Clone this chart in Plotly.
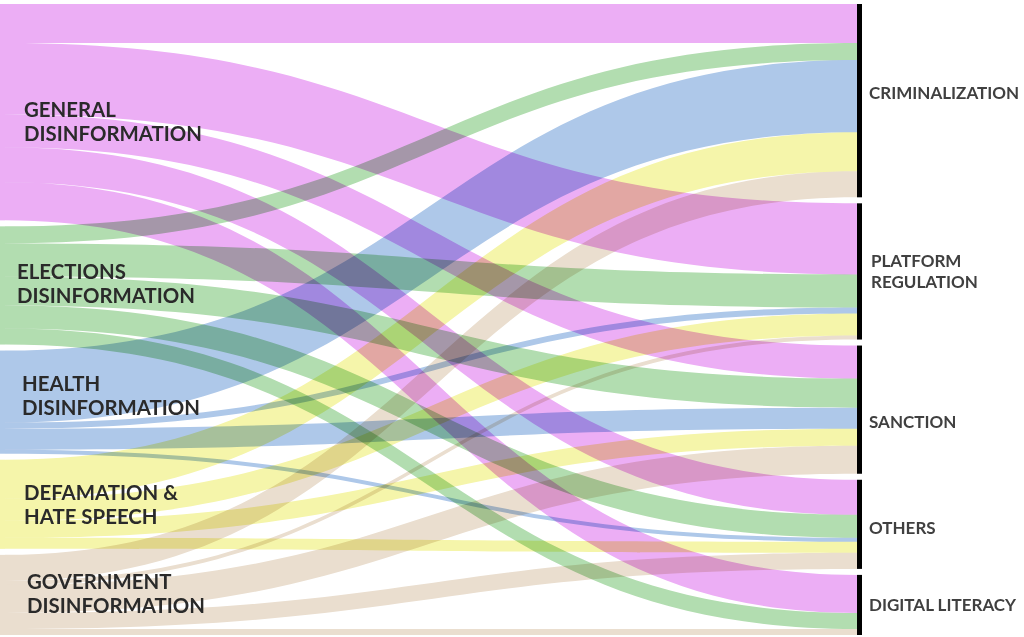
import plotly.graph_objects as go

# ---------------- data ----------------
sources = ["GENERAL<br>DISINFORMATION", "ELECTIONS<br>DISINFORMATION", "HEALTH<br>DISINFORMATION",
           "DEFAMATION &<br>HATE SPEECH", "GOVERNMENT<br>DISINFORMATION"]
targets = ["CRIMINALIZATION", "PLATFORM<br>REGULATION", "SANCTION", "OTHERS", "DIGITAL LITERACY"]

# flow values from each source to [Criminalization, Platform Regulation, Sanction, Others, Digital Literacy]
general_flows = [39, 71, 33, 35, 38]
elections_flows = [17, 33, 29, 23, 16]
health_flows = [72, 6, 21, 4, 0]
defamation_flows = [39, 22, 17, 11, 0]
government_flows = [26, 4, 28, 16, 6]

source_colors = ["#ECAEF5", "#B2DDB0", "#AEC8E9", "#F5F5AA", "#EADECF"]
target_color = "#000000"

# ---------------- build ----------------
flows = [general_flows, elections_flows, health_flows, defamation_flows, government_flows]
link_src, link_tgt, link_val, link_col = [], [], [], []
for i, row in enumerate(flows):
    for j, v in enumerate(row):
        if v > 0:
            link_src.append(i)
            link_tgt.append(len(sources) + j)
            link_val.append(v)
            link_col.append(source_colors[i])

W, H = 1024, 637
top_px, bot_px, right_px = 4, 635, 862
dom_h = bot_px - top_px
dom_w = right_px
pad = 6
thick = 5

src_tot = [sum(r) for r in flows]
tgt_tot = [sum(r[j] for r in flows) for j in range(len(targets))]
total = sum(src_tot)
ky = (dom_h - (len(sources) - 1) * pad) / total


def centers(vals):
    out, cum = [], 0
    for i, v in enumerate(vals):
        out.append((cum * ky + i * pad + v * ky / 2) / dom_h)
        cum += v
    return out


node_x = [thick / 2 / dom_w] * len(sources) + [1 - thick / 2 / dom_w] * len(targets)
node_y = centers(src_tot) + centers(tgt_tot)

labels_plain = [s.replace("<br>", " ") for s in sources + targets]

fig = go.Figure(go.Sankey(
    arrangement="fixed",
    domain=dict(x=[0, right_px / W], y=[1 - bot_px / H, 1 - top_px / H]),
    node=dict(
        label=["" for _ in labels_plain],
        customdata=labels_plain,
        hovertemplate="%{customdata}<extra></extra>",
        color=source_colors + [target_color] * len(targets),
        line=dict(width=0),
        thickness=thick,
        pad=pad,
        x=node_x,
        y=node_y,
    ),
    link=dict(source=link_src, target=link_tgt, value=link_val, color=link_col,
              line=dict(width=0)),
))

# labels as annotations (one per line for exact line spacing)
left_pos = [(22, 121), (15, 283), (20, 395), (22, 504), (25, 593)]
right_pos = [(867, 93), (869, 271), (867, 421), (867, 527), (867, 604)]
ann = []


def add_label(txt, x, y, size, color, gap):
    lines = txt.split("<br>")
    n = len(lines)
    for k, line in enumerate(lines):
        yy = y + (k - (n - 1) / 2) * gap
        ann.append(dict(text=line, x=x / W, y=1 - yy / H, xref="paper", yref="paper",
                        xanchor="left", yanchor="middle", align="left", showarrow=False,
                        font=dict(family="Lato", size=size, color=color, weight=700)))


for txt, (x, y) in zip(sources, left_pos):
    add_label(txt, x, y, 20.4, "#2a2a2a", 24.5)
for txt, (x, y) in zip(targets, right_pos):
    add_label(txt, x, y, 17, "#404040", 21)

fig.update_layout(width=W, height=H, margin=dict(l=0, r=0, t=0, b=0),
                  paper_bgcolor="white", plot_bgcolor="white", annotations=ann)

post = ("var s=document.createElement('style');"
        "s.textContent='.sankey-link{mix-blend-mode:multiply;}';"
        "document.head.appendChild(s);")
fig.write_html("out.html", post_script=post)
